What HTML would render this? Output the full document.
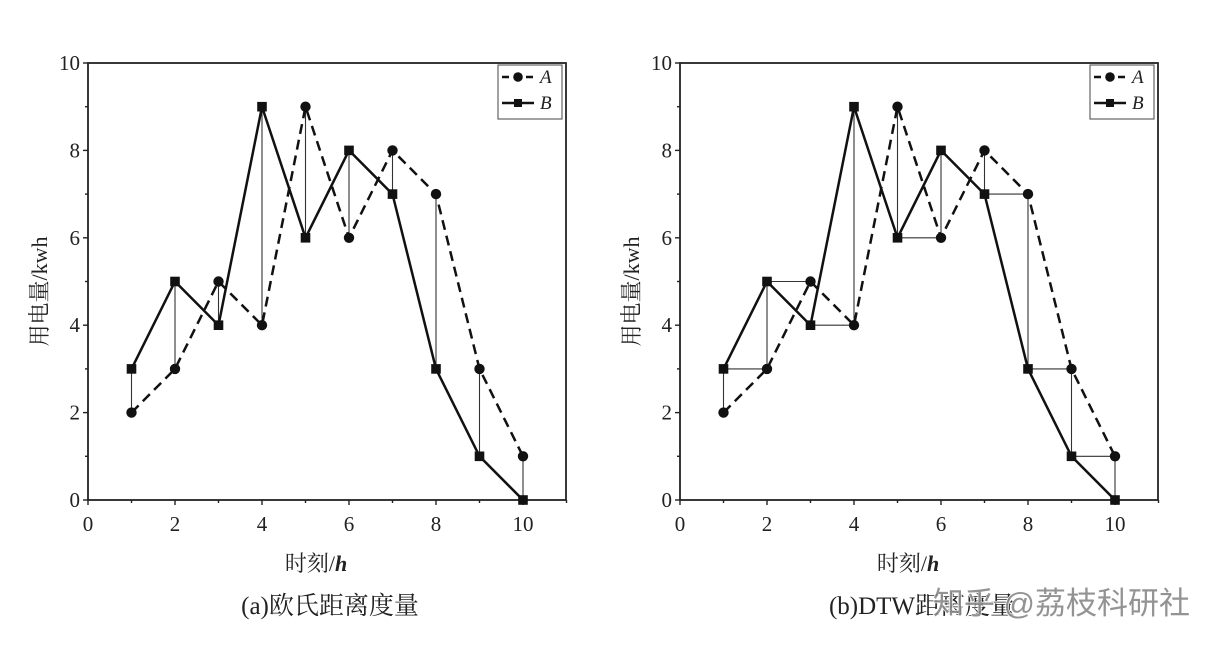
<!DOCTYPE html>
<html><head><meta charset="utf-8"><style>
body{margin:0;background:#fff;width:1218px;height:651px;overflow:hidden}
svg{display:block}
text{font-family:"Liberation Serif","Noto Serif CJK SC",serif;fill:#222}
</style></head><body>
<svg id="s" width="1218" height="651"></svg>
<script>
const xTicks=[0,2,4,6,8,10];
const yTicks=[0,2,4,6,8,10];
const hours=[1,2,3,4,5,6,7,8,9,10];
const seriesA=[2,3,5,4,9,6,8,7,3,1];
const seriesB=[3,5,4,9,6,8,7,3,1,0];
const dtwPairs=[[0,0],[1,0],[1,1],[2,1],[3,2],[3,3],[4,4],[5,4],[5,5],[6,6],[7,6],[7,7],[8,7],[8,8],[9,8],[9,9]];
const NS="http://www.w3.org/2000/svg";
const svg=document.getElementById('s');
function el(t,a,p){const e=document.createElementNS(NS,t);for(const k in a)e.setAttribute(k,a[k]);(p||svg).appendChild(e);return e;}
function panel(ox,mode,cap){
  const L=88+ox,R=566+ox,T=63,B=500;
  const sx=v=>L+v*(523-88)/10, sy=v=>B-v*(B-T)/10;
  const g=el('g',{});
  
  
  const fr=el('rect',{x:L,y:T,width:R-L,height:B-T,fill:'none',stroke:'#222','stroke-width':1.8},g);
  
  for(let v=0;v<=11;v++){el('line',{x1:sx(v),x2:sx(v),y1:B,y2:B+(v%2?3:5),stroke:'#222','stroke-width':1.4},g);}
  for(let v=0;v<=10;v++){el('line',{x1:L,x2:L-(v%2?3:5),y1:sy(v),y2:sy(v),stroke:'#222','stroke-width':1.4},g);}
  xTicks.forEach(v=>{const t=el('text',{x:sx(v),y:B+31,'text-anchor':'middle','font-size':21},g);t.textContent=v;
    });
  yTicks.forEach(v=>{const t=el('text',{x:L-8,y:sy(v)+7,'text-anchor':'end','font-size':21},g);t.textContent=v;
    });
  const xt=el('text',{x:L+228,y:571,'text-anchor':'middle','font-size':22},g);
  xt.innerHTML='时刻/<tspan font-style="italic" font-weight="bold">h</tspan>';
  
  const yt=el('text',{x:0,y:0,'text-anchor':'middle','font-size':22,transform:`translate(${L-41},${(T+B)/2+10}) rotate(-90)`},g);
  yt.textContent='用电量/kwh';
  
  const ct=el('text',{x:L+242,y:614,'text-anchor':'middle','font-size':25},g);ct.textContent=cap;
  
  const pairs=mode==='e'?hours.map((h,i)=>[i,i]):dtwPairs;
  pairs.forEach(p=>{const c=el('line',{x1:sx(hours[p[0]]),y1:sy(seriesA[p[0]]),x2:sx(hours[p[1]]),y2:sy(seriesB[p[1]]),stroke:'#333','stroke-width':1.1},g);
    });
  const pa=el('polyline',{points:hours.map((h,i)=>sx(h)+','+sy(seriesA[i])).join(' '),fill:'none',stroke:'#111','stroke-width':2.5,'stroke-dasharray':'10,6'},g);
  
  const pb=el('polyline',{points:hours.map((h,i)=>sx(h)+','+sy(seriesB[i])).join(' '),fill:'none',stroke:'#111','stroke-width':2.5},g);
  
  hours.forEach((h,i)=>{
    const c=el('circle',{cx:sx(h),cy:sy(seriesA[i]),r:5.2,fill:'#111'},g);
    
    const r=el('rect',{x:sx(h)-4.8,y:sy(seriesB[i])-4.8,width:9.6,height:9.6,fill:'#111'},g);
    
  });
  const lg=el('g',{},g);
  el('rect',{x:L+410,y:T+2,width:64,height:54,fill:'#fff',stroke:'#444','stroke-width':1},lg);
  el('line',{x1:L+414,x2:L+446,y1:T+14,y2:T+14,stroke:'#111','stroke-width':2.4,'stroke-dasharray':'7,5'},lg);
  el('circle',{cx:L+430,cy:T+14,r:4.8,fill:'#111'},lg);
  const ta=el('text',{x:L+452,y:T+20,'font-size':19,'font-style':'italic'},lg);ta.textContent='A';
  
  el('line',{x1:L+414,x2:L+446,y1:T+40,y2:T+40,stroke:'#111','stroke-width':2.4},lg);
  el('rect',{x:L+426,y:T+36,width:8,height:8,fill:'#111'},lg);
  const tb=el('text',{x:L+452,y:T+46,'font-size':19,'font-style':'italic'},lg);tb.textContent='B';
  
}
panel(0,'e','(a)欧氏距离度量');
panel(592,'d','(b)DTW距离度量');
const wm=el('text',{x:1190,y:614,'text-anchor':'end','font-size':31,style:'font-family:"Liberation Sans","Noto Sans CJK SC",sans-serif;fill:#888;stroke:#fff;stroke-width:1.5;paint-order:stroke;opacity:0.9'});
wm.textContent='知乎 @荔枝科研社';


</script>
</body></html>
